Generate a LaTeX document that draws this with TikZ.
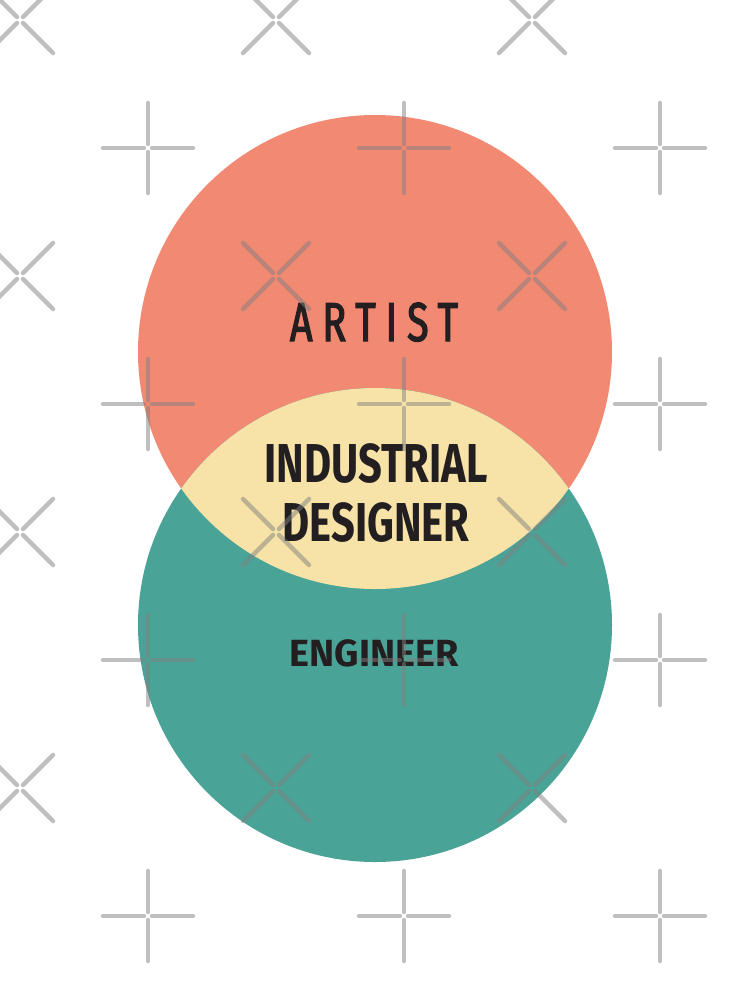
\documentclass[tikz,border=0pt]{standalone}
\usepackage{fontspec}
\newfontfamily\artfont[FakeStretch=0.72,LetterSpace=18,FakeBold=2.2]{Fira Sans}
\newfontfamily\jobfont[FakeStretch=0.76]{Fira Sans}
\newfontfamily\engfont{Fira Sans}
\usetikzlibrary{positioning}

\definecolor{artistred}{RGB}{242,137,115}
\definecolor{engteal}{RGB}{74,163,151}
\definecolor{lensyellow}{RGB}{247,227,168}
\definecolor{inkdark}{RGB}{35,31,32}

\tikzset{
  wmline/.style={draw=black!50, draw opacity=0.5, line width=4.5bp, line cap=round},
  vennlabel/.style={anchor=base, text=inkdark, inner sep=0pt}
}

\begin{document}
\begin{tikzpicture}[x=1bp, y=-1bp]
  \useasboundingbox[fill=white](0,0) rectangle (750,1000);
  % the two circles and their overlap
  \fill[artistred](375,352) circle (237);
  \fill[engteal](375,625) circle (237);
  \begin{scope}
    \clip(375,352) circle (237);
    \fill[lensyellow](375,625) circle (237);
  \end{scope}
  % labels
  \node[vennlabel](artist) at (374,341) {\artfont\fontsize{55}{59}\selectfont ARTIST};
  \node[vennlabel](industrial) at (376,482) {\jobfont\bfseries\fontsize{55}{59}\selectfont INDUSTRIAL};
  \node[vennlabel](designer) at (376,541) {\jobfont\bfseries\fontsize{55}{59}\selectfont DESIGNER};
  \node[vennlabel](engineer) at (374,666) {\engfont\bfseries\fontsize{38}{42}\selectfont ENGINEER};
  % watermark crosses
  \foreach \x in {148,404,660}
    \foreach \y in {148,404,660,916}{
      \draw[wmline](\x,\y-4)--(\x,\y-45);
      \draw[wmline](\x,\y+4)--(\x,\y+45);
      \draw[wmline](\x-4,\y)--(\x-45,\y);
      \draw[wmline](\x+4,\y)--(\x+45,\y);
    }
  \foreach \x in {20,276,532}
    \foreach \y in {20,276,532,788}{
      \draw[wmline](\x-3,\y-3)--(\x-33,\y-33);
      \draw[wmline](\x+3,\y-3)--(\x+33,\y-33);
      \draw[wmline](\x-3,\y+3)--(\x-33,\y+33);
      \draw[wmline](\x+3,\y+3)--(\x+33,\y+33);
    }
\end{tikzpicture}
\end{document}
